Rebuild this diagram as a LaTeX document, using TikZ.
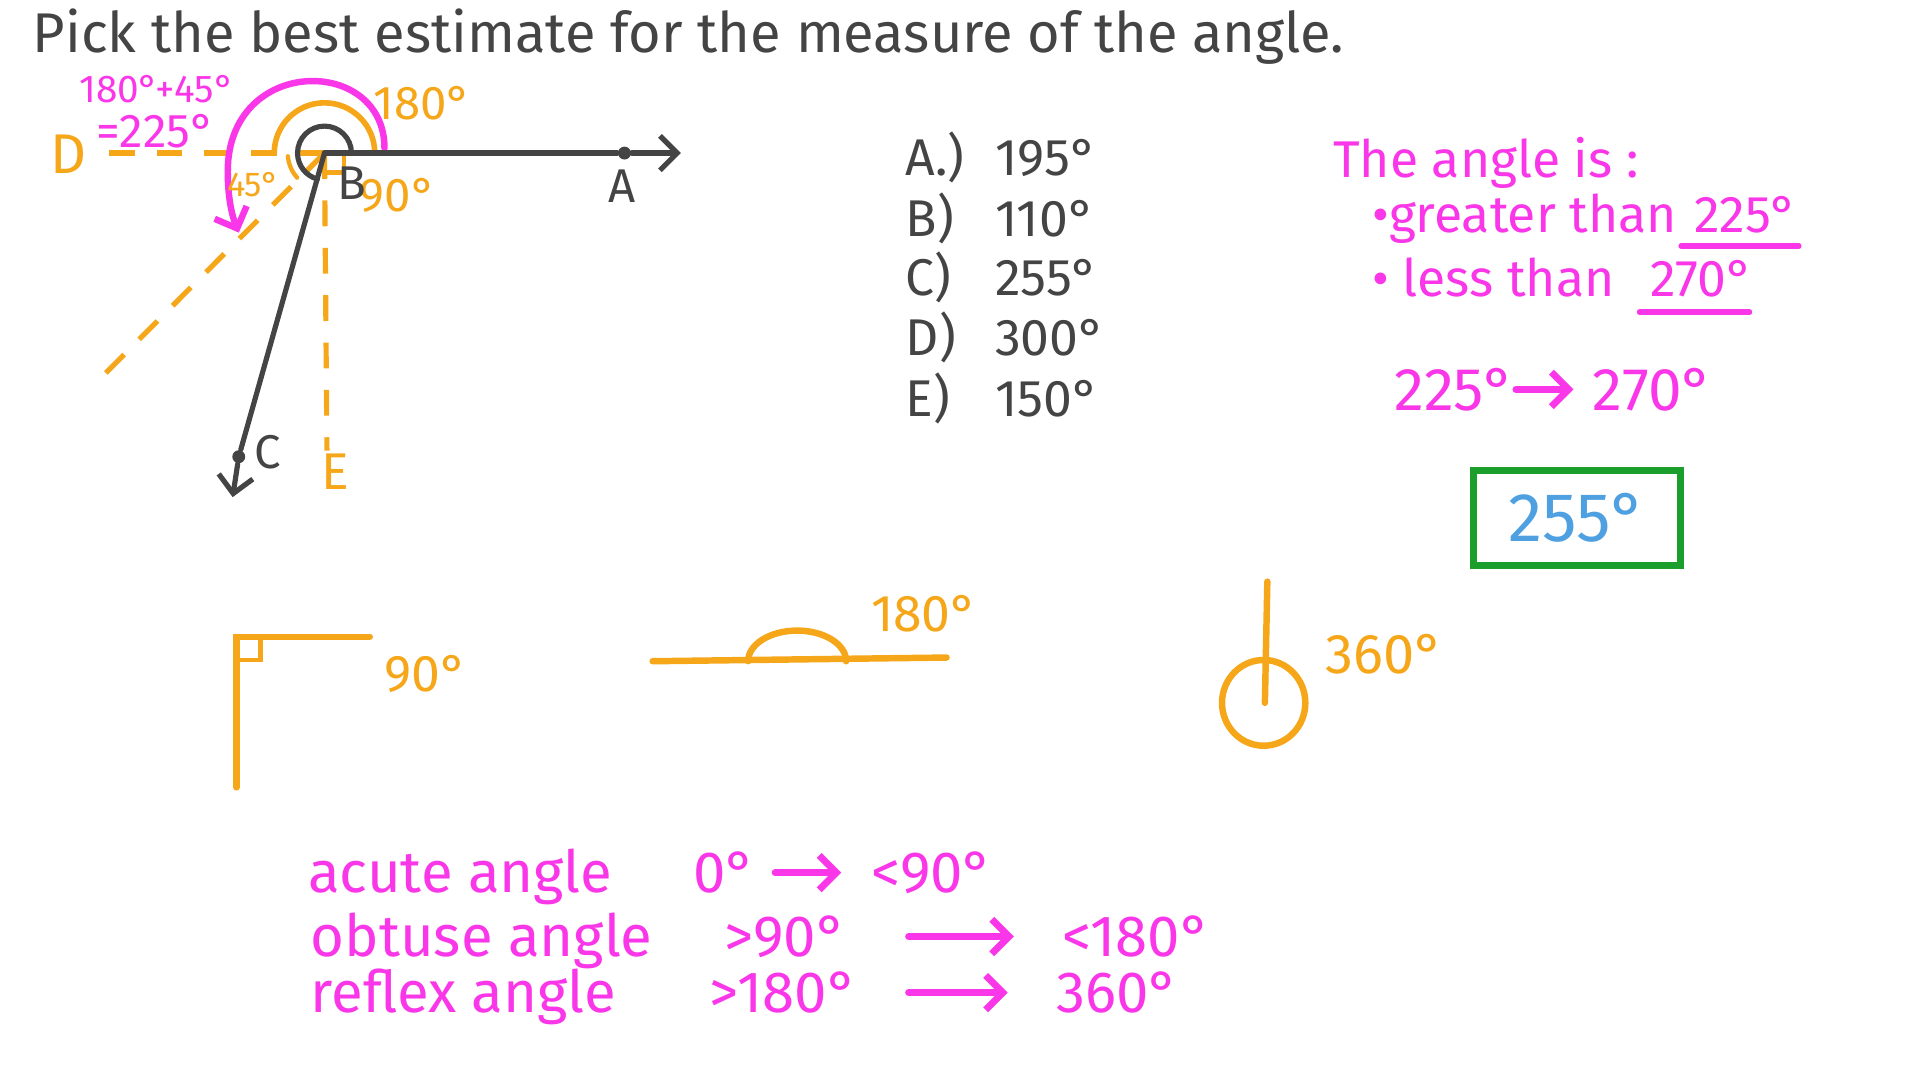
\documentclass[tikz,border=0pt]{standalone}
\usepackage{fontspec}
\setmainfont{Fira Sans}
\usepackage{xcolor}
\usepackage{tikz}
\usetikzlibrary{arrows.meta}

\definecolor{inkgray}{RGB}{68,68,68}
\definecolor{hotpink}{RGB}{250,55,232}
\definecolor{amber}{RGB}{245,166,25}
\definecolor{boxgreen}{RGB}{28,158,44}
\definecolor{skyblue}{RGB}{78,160,224}

\newcommand{\fs}[1]{\fontsize{#1}{#1}\selectfont}

\begin{document}
\begin{tikzpicture}[x=0.01cm,y=-0.01cm,
        pencil/.style={inkgray,line width=1.2pt,line cap=round},
        amberline/.style={amber,line width=1.3pt,line cap=round},
        guide/.style={amber,line width=1.2pt,dash pattern=on 6pt off 5pt},
        pinkline/.style={hotpink,line width=1.3pt,line cap=round},
        pinkarrow/.style={pinkline,line width=1.6pt,-{Straight Barb[length=4pt,width=8pt]}},
        dot/.style={circle,fill=inkgray,inner sep=0pt,minimum size=3pt},
        hand/.style={inner sep=0pt,font=\fs{#1}},
        hand/.default=12]

        \useasboundingbox (0,0) rectangle (1568,882);

        \node[hand=13,inkgray,anchor=base west] (title) at (26,43) {Pick the best estimate for the measure of the angle.};

        \coordinate (B) at (265,125);
        \node[dot] (A) at (510,125) {};
        \node[dot] (C) at (195,373) {};
        \coordinate (Aend) at (556,125);
        \coordinate (Cend) at (190,406);
        \coordinate (Dend) at (88,125);
        \coordinate (Eend) at (267,368);
        \coordinate (Gend) at (83,308);

        \draw[guide] (B) -- (Dend);
        \draw[guide] (B) -- (Eend);
        \draw[guide] (B) -- (Gend);

        \draw[amberline] ([shift={(0:0.41cm)}]B) arc[start angle=0,end angle=180,radius=0.41cm];
        \draw[amberline,line width=1pt] ([shift={(185:0.3cm)}]B) arc[start angle=185,end angle=222,radius=0.3cm];
        \draw[amberline,line width=1pt] ([shift={(0,16)}]B) -- ++(16,0) -- ++(0,-16);
        \draw[pinkline,line width=1.5pt,-{Straight Barb[length=4pt,width=8pt]}] (314,121) .. controls (314,45) and (186,45) .. (186,140) .. controls (186,160) and (189,175) .. (195,190);

        \draw[pencil] ([shift={(0:0.22cm)}]B) arc[start angle=0,end angle=255,radius=0.22cm];
        \draw[pencil,-{Straight Barb[length=4pt,width=8pt]}] (B) -- (A) -- (Aend);
        \draw[pencil,-{Straight Barb[length=4pt,width=8pt]}] (B) -- (C) -- (Cend);

        \node[hand=9,hotpink] (sumtop) at (128,73) {180°+45°};
        \node[hand=11,hotpink] (sumbot) at (127,107) {=225°};
        \node[hand=13,amber] (D) at (56,126) {D};
        \node[hand=11,amber] (arctop) at (345,84) {180°};
        \node[hand=8,amber] (arcleft) at (207,151) {45°};
        \node[hand=11,amber] (arcright) at (325,160) {90°};
        \node[hand=11,inkgray] (Blbl) at (287,150) {B};
        \node[hand=11,inkgray] (Albl) at (508,152) {A};
        \node[hand=11,inkgray] (Clbl) at (219,369) {C};
        \node[hand=12,amber] (E) at (274,385) {E};

        \node[hand,inkgray,anchor=base west] (optA) at (739,143) {\makebox[0.73cm][l]{A.)}195°};
        \node[hand,inkgray,anchor=base west] (optB) at (739,193) {\makebox[0.73cm][l]{B)}110°};
        \node[hand,inkgray,anchor=base west] (optC) at (739,241) {\makebox[0.73cm][l]{C)}255°};
        \node[hand,inkgray,anchor=base west] (optD) at (739,290) {\makebox[0.73cm][l]{D)}300°};
        \node[hand,inkgray,anchor=base west] (optE) at (739,340) {\makebox[0.73cm][l]{E)}150°};

        \node[hand,hotpink,anchor=base west] (claim) at (1088,145) {The angle is :};
        \node[hand,hotpink,anchor=base west] (above) at (1120,190) {•greater than};
        \node[hand,hotpink,anchor=base west] (aboveval) at (1383,190) {225°};
        \draw[pinkline] ([shift={(-10,11)}]aboveval.base west) -- ([shift={(0,11)}]aboveval.base east);
        \node[hand,hotpink,anchor=base west] (below) at (1120,242) {• less than};
        \node[hand,hotpink,anchor=base west] (belowval) at (1347,242) {270°};
        \draw[pinkline] ([shift={(-8,13)}]belowval.base west) -- ([shift={(-4,13)}]belowval.base east);

        \node[hand=14,hotpink,anchor=base east] (rangeLo) at (1238,335) {225°};
        \node[hand=14,hotpink,anchor=base west] (rangeHi) at (1300,335) {270°};
        \draw[pinkarrow,shorten >=0.15cm] (rangeLo.east) -- (rangeLo.east -| rangeHi.west);

        \node[draw=boxgreen,line width=1.6pt,minimum width=1.69cm,minimum height=0.77cm,inner sep=0pt,font=\fs{16},text=skyblue] (answer) at (1288,423) {255°};

        \draw[amberline,line width=1.5pt] (193,643) -- (193,520) -- (302,520);
        \draw[amberline,line width=1.1pt] (193,539) -- (213,539) -- (213,520);
        \node[hand=12,amber] (rightlbl) at (348,550) {90°};

        \draw[amberline,line width=1.5pt] (533,540) -- (773,537);
        \draw[amberline,line width=1.5pt] (611,540) arc[start angle=180,end angle=0,x radius=0.4cm,y radius=0.25cm];
        \node[hand=12,amber] (straightlbl) at (755,501) {180°};

        \draw[amberline,line width=1.5pt] (1035,475) -- (1033,574);
        \draw[amberline,line width=1.5pt] (1032,574) ellipse[x radius=0.34cm,y radius=0.35cm];
        \node[hand=13,amber] (fulllbl) at (1131,534) {360°};

        \node[hand=13.5,hotpink,anchor=base west] (acute) at (251,729) {acute angle};
        \node[hand=13.5,hotpink,anchor=base east] (acuteLo) at (618,729) {0°};
        \node[hand=13.5,hotpink,anchor=base west] (acuteHi) at (711,729) {<90°};
        \draw[pinkarrow,shorten <=0.15cm,shorten >=0.24cm] (acuteLo.east) -- (acuteLo.east -| acuteHi.west);

        \node[hand=13.5,hotpink,anchor=base west] (obtuse) at (253,781) {obtuse angle};
        \node[hand=13.5,hotpink,anchor=base east] (obtuseLo) at (692,781) {>90°};
        \node[hand=13.5,hotpink,anchor=base west] (obtuseHi) at (867,781) {<180°};
        \draw[pinkarrow,shorten <=0.5cm,shorten >=0.39cm] (obtuseLo.east) -- (obtuseLo.east -| obtuseHi.west);

        \node[hand=13.5,hotpink,anchor=base west] (reflex) at (253,827) {reflex angle};
        \node[hand=13.5,hotpink,anchor=base east] (reflexLo) at (701,827) {>180°};
        \node[hand=13.5,hotpink,anchor=base west] (reflexHi) at (862,827) {360°};
        \draw[pinkarrow,shorten <=0.41cm,shorten >=0.39cm] (reflexLo.east) -- (reflexLo.east -| reflexHi.west);
\end{tikzpicture}
\end{document}
